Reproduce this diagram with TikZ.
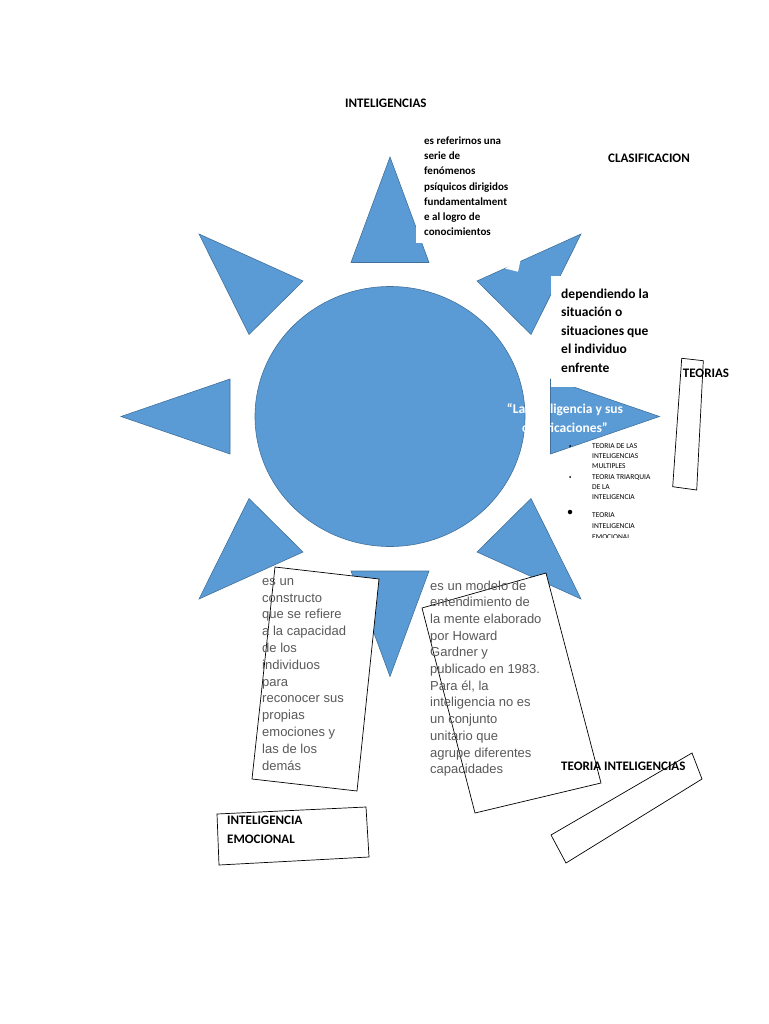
\documentclass[tikz,border=0pt]{standalone}
\usepackage{fontspec}
\setmainfont{Carlito}
\newfontfamily\arialfont{Liberation Sans}
\definecolor{sunblue}{HTML}{5B9BD5}
\definecolor{sunedge}{HTML}{41719C}
\definecolor{notegray}{HTML}{595959}

\tikzset{
  ray/.style={fill=sunblue, draw=sunedge, line width=0.6pt},
  cover/.style={fill=white, draw=none},
  frame/.style={draw=black, line width=0.7pt, fill=white},
  heading/.style={font=\bfseries\fontsize{13}{19}\selectfont, inner sep=0pt, anchor=base west, align=left},
  note/.style={font=\arialfont\fontsize{13}{16.8}\selectfont, text=notegray, align=left, inner sep=0pt, anchor=base west},
  listitem/.style={font=\fontsize{7.5}{10}\selectfont, align=left, inner sep=0pt, anchor=base west},
  bulletdot/.style={circle, fill=black, inner sep=0pt, minimum size=#1},
}

\begin{document}
\begin{tikzpicture}[x=1pt, y=-1pt]
  \useasboundingbox (0,0) rectangle (768,1024);

  % sun
  \draw[ray] (390,416.5) ellipse [x radius=135, y radius=130];
  \draw[ray] (390,157) -- (351,262.5) -- (429,262.5) -- cycle;
  \draw[ray] (199,234) -- (303,281) -- (249,334.5) -- cycle;
  \draw[ray] (581,234) -- (477,281) -- (531,334.5) -- cycle;
  \draw[ray] (121,416.5) -- (230,379) -- (230,454) -- cycle;
  \draw[ray] (659.5,416.5) -- (550.5,379) -- (550.5,454) -- cycle;
  \draw[ray] (199,599) -- (249,498.5) -- (303,552) -- cycle;
  \draw[ray] (581,599) -- (531,498.5) -- (477,552) -- cycle;
  \draw[ray] (390,676.5) -- (351,571) -- (429,571) -- cycle;

  % white text frames over the rays
  \fill[cover] (416,130) rectangle (512,243);
  \fill[cover] (551,276) rectangle (655,387);
  \fill[cover] (505,268.5) -- (518,271.7) -- (521,258) -- cycle;

  % boxes
  \draw[frame] (275,567) -- (379,579) -- (357,791) -- (252,779) -- cycle;
  \draw[frame] (422,608) -- (546,573) -- (601,783) -- (475,813) -- cycle;
  \draw[frame] (681.7,358.3) -- (703.3,360.7) -- (696.7,490) -- (672.7,486.7) -- cycle;
  \draw[frame] (217,814) -- (366,807) -- (369,857) -- (219,865) -- cycle;
  \draw[frame] (551,835) -- (692,753) -- (702,779) -- (566,863) -- cycle;

  % headings
  \node[heading] (inteligencias) at (345,108) {INTELIGENCIAS};
  \node[heading] (clasificacion) at (608,163) {CLASIFICACION};
  \node[heading] (teorias) at (682.7,377) {TEORIAS};
  \node[heading] (teoriaint) at (561,770) {TEORIA INTELIGENCIAS};
  \node[heading] (emocional) at (227,843) {INTELIGENCIA\\EMOCIONAL};

  % texts (multi-line nodes sit on their last baseline)
  \node[heading, font=\bfseries\fontsize{11}{15.33}\selectfont] (definicion) at (424,236)
    {es referirnos una\\serie de\\fenómenos\\psíquicos dirigidos\\fundamentalment\\e al logro de\\conocimientos};
  \node[heading, font=\bfseries\fontsize{13.5}{18.5}\selectfont] (situacion) at (561,372)
    {dependiendo la\\situación o\\situaciones que\\el individuo\\enfrente};
  \node[note] (constructo) at (262,770)
    {es un\\constructo\\que se refiere\\a la capacidad\\de los\\individuos\\para\\reconocer sus\\propias\\emociones y\\las de los\\demás};
  \node[note, font=\arialfont\fontsize{13}{16.7}\selectfont] (modelo) at (430,773.7)
    {es un modelo de\\entendimiento de\\la mente elaborado\\por Howard\\Gardner y\\publicado en 1983.\\Para él, la\\inteligencia no es\\un conjunto\\unitario que\\agrupe diferentes\\capacidades};

  % list of theories
  \node[bulletdot=2pt] (dot1) at (570,446) {};
  \node[bulletdot=2pt] (dot2) at (570,477) {};
  \node[bulletdot=4.5pt] (dot3) at (570,512) {};
  \node[listitem] (multiples) at (592,468.5) {TEORIA DE LAS\\INTELIGENCIAS\\MULTIPLES};
  \node[listitem] (triarquia) at (592,499.5) {TEORIA TRIARQUIA\\DE LA\\INTELIGENCIA};
  \begin{scope}
    \clip (560,500) rectangle (700,537.5);
    \node[listitem, font=\fontsize{7.5}{11}\selectfont] (emoc) at (592,539) {TEORIA\\INTELIGENCIA\\EMOCIONAL};
  \end{scope}

  % central title
  \node[font=\bfseries\fontsize{13.5}{19}\selectfont, text=white, align=center, inner sep=0pt, anchor=base] (tema) at (565,432)
    {“La inteligencia y sus\\clasificaciones”};
\end{tikzpicture}
\end{document}
